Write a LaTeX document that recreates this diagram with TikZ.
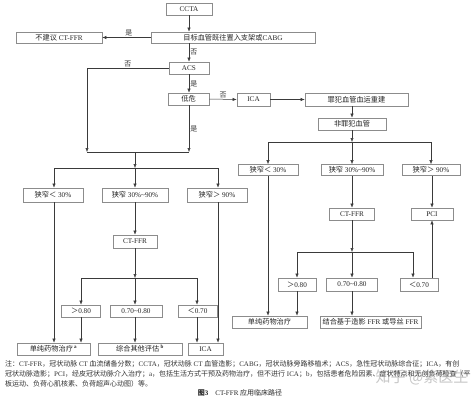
\documentclass[tikz,border=0pt]{standalone}
\usepackage{fontspec}
\setmainfont{Liberation Serif}
\newfontfamily\cjkf{Noto Sans CJK SC}
\newcommand\zh[1]{{\cjkf #1}}
\usetikzlibrary{arrows.meta,calc}
\definecolor{boxc}{HTML}{8C8C8C}
\definecolor{linec}{HTML}{3A3A3A}
\begin{document}
\begin{tikzpicture}[x=1pt,y=-1pt,
  box/.style={draw=boxc, line width=0.6pt, inner sep=0pt, text=black!85,
    font=\fontsize{7.2}{8}\selectfont, minimum height=12pt},
  ln/.style={draw=linec, line width=0.5pt},
  arr/.style={ln, -{Latex[length=4pt,width=3.2pt]}},
  lab/.style={font=\fontsize{7}{8}\selectfont\cjkf, text=black!80, inner sep=1pt},
  note/.style={font=\fontsize{7}{8.5}\selectfont, text=black!80, inner sep=0pt, anchor=west}]
\useasboundingbox (0,0) rectangle (474,404);
\fill[white] (0,0) rectangle (474,404);

% top
\node[box, minimum width=46pt] (ccta) at (189,9) {CCTA};
\node[box, minimum width=164pt, minimum height=11pt] (target) at (233,37.5) {\zh{目标血管既往置入支架或}CABG};
\node[box, minimum width=86pt, minimum height=11pt] (nofr) at (59,37.5) {\zh{不建议} CT-FFR};
\node[box, minimum width=40pt] (acs) at (189,68) {ACS};
\node[box, minimum width=41pt] (low) at (188.5,99) {\zh{低危}};
\node[box, minimum width=33pt, minimum height=13pt] (ica1) at (253.5,99.5) {ICA};
\node[box, minimum width=103pt, minimum height=13pt] (cul) at (356.5,99.5) {\zh{罪犯血管血运重建}};
\node[box, minimum width=68pt] (ncul) at (352,124) {\zh{非罪犯血管}};

% right column
\node[box, minimum width=60pt, minimum height=11pt] (r1) at (268,170) {\zh{狭窄＜} 30\%};
\node[box, minimum width=62pt, minimum height=11pt] (r2) at (352,170) {\zh{狭窄} 30\%\textasciitilde90\%};
\node[box, minimum width=58pt, minimum height=11pt] (r3) at (431,170) {\zh{狭窄＞} 90\%};
\node[box, minimum width=45pt] (ctffr2) at (352,214) {CT-FFR};
\node[box, minimum width=42pt] (pci) at (432,214) {PCI};
\node[box, minimum width=38pt, minimum height=13pt] (rg) at (297,284.5) {\zh{＞}0.80};
\node[box, minimum width=51pt, minimum height=13pt] (rm) at (352,284.5) {0.70\textasciitilde0.80};
\node[box, minimum width=38pt, minimum height=13pt] (rl) at (419,284.5) {\zh{＜}0.70};
\node[box, minimum width=75pt] (rdrug) at (269.5,322) {\zh{单纯药物治疗}};
\node[box, minimum width=101pt] (rcomb) at (370.5,322) {\zh{结合基于造影} FFR \zh{或导丝} FFR};

% left column
\node[box, minimum width=60pt, minimum height=14pt] (l1) at (53,195) {\zh{狭窄＜} 30\%};
\node[box, minimum width=66pt, minimum height=14pt] (l2) at (135,195) {\zh{狭窄} 30\%\textasciitilde90\%};
\node[box, minimum width=60pt, minimum height=14pt] (l3) at (217,195) {\zh{狭窄＞} 90\%};
\node[box, minimum width=44pt, minimum height=13pt] (ctffr1) at (135,241.5) {CT-FFR};
\node[box, minimum width=39pt] (lg) at (81,311) {\zh{＞}0.80};
\node[box, minimum width=52pt] (lm) at (136,311) {0.70\textasciitilde0.80};
\node[box, minimum width=39pt] (ll) at (197.5,311) {\zh{＜}0.70};
\node[box, minimum width=73pt] (bdrug) at (53.5,349) {\zh{单纯药物治疗}\,\textsuperscript{\bfseries a}};
\node[box, minimum width=84pt] (bcomp) at (140,349) {\zh{综合其他评估}\,\textsuperscript{\bfseries b}};
\node[box, minimum width=35pt] (bica) at (205.5,349) {ICA};

% coordinates for bars
\coordinate (barL) at (87,152);
\coordinate (barR) at (189,152);
\coordinate (barC) at (135,152);
\coordinate (bar2L) at (54,168);
\coordinate (bar2C) at (135,168);
\coordinate (bar2R) at (218,168);
\coordinate (bar3L) at (81,278);
\coordinate (bar3C) at (135,278);
\coordinate (bar3R) at (197,278);
\coordinate (rbarL) at (268,142);
\coordinate (rbarC) at (352,142);
\coordinate (rbarR) at (431,142);
\coordinate (rbar2L) at (297,252);
\coordinate (rbar2C) at (352,252);
\coordinate (rbar2R) at (413,252);

% top connectors
\draw[arr] (ccta.south) -- (ccta.south |- target.north);
\draw[arr] (target.west) -- node[lab, above, pos=0.45] {是} (nofr.east);
\draw[arr] (acs.north |- target.south) -- node[lab, right, pos=0.45] {否} (acs.north);
\draw[arr] (acs.west) -- node[lab, above, pos=0.5] {否} (acs.west -| barL) -- (barL);
\draw[arr] (acs.south) -- node[lab, right] {是} (low.north -| acs.south);
\draw[arr] (low.east) -- node[lab, above] {否} (ica1.west);
\draw[arr] (ica1.east) -- (cul.west);
\draw[arr] (ncul.north |- cul.south) -- (ncul.north);
\draw[arr] (low.south -| barR) -- node[lab, right] {是} (barR);
\draw[ln] (barL) -- (barR);
\draw[arr] (barC) -- (bar2C);
\draw[ln] (bar2L) -- (bar2R);
\draw[arr] (bar2L) -- (bar2L |- l1.north);
\draw[arr] (bar2C) -- (l2.north);
\draw[arr] (bar2R) -- (bar2R |- l3.north);

% left lower
\draw[arr] (l1.south -| bar2L) -- (bar2L |- bdrug.north);
\draw[arr] (l2.south) -- (ctffr1.north);
\draw[arr] (l3.south -| bar2R) -- (bar2R |- bica.north);
\draw[arr] (ctffr1.south) -- (bar3C);
\draw[ln] (bar3L) -- (bar3R);
\draw[arr] (bar3L) -- (lg.north);
\draw[arr] (bar3C) -- (bar3C |- lm.north);
\draw[arr] (bar3R) -- (bar3R |- ll.north);
\draw[arr] (lg.south) -- (lg.south |- bdrug.north);
\draw[arr] (bar3C |- lm.south) -- (bar3C |- bcomp.north);
\draw[arr] (bar3R |- ll.south) -- (bar3R |- bica.north);

% right connectors
\draw[arr] (ncul.south) -- (rbarC);
\draw[ln] (rbarL) -- (rbarR);
\draw[arr] (rbarL) -- (r1.north);
\draw[arr] (rbarC) -- (r2.north);
\draw[arr] (rbarR) -- (r3.north);
\draw[arr] (r1.south) -- (r1.south |- rdrug.north);
\draw[arr] (r2.south) -- (ctffr2.north);
\draw[arr] (r3.south -| pci) -- (pci.north);
\draw[arr] (ctffr2.south) -- (rbar2C);
\draw[ln] (rbar2L) -- (rbar2R);
\draw[arr] (rbar2L) -- (rg.north);
\draw[arr] (rbar2C) -- (rm.north);
\draw[arr] (rbar2R) -- (rbar2R |- rl.north);
\draw[arr] (rg.south) -- (rg.south |- rdrug.north);
\draw[arr] (rm.south) -- (rm.south |- rcomb.north);
\draw[arr] (rl.north -| pci) -- (pci.south);

% watermark
\node[font=\fontsize{15}{16}\selectfont\cjkf, text=black!22, inner sep=0pt] (wm) at (422,377) {知乎 @紫医生};

% notes
\node[note] (n1) at (5,364) {\zh{注：}CT-FFR\zh{，冠状动脉} CT \zh{血流储备分数；}CCTA\zh{，冠状动脉} CT \zh{血管造影；}CABG\zh{，冠状动脉旁路移植术；}ACS\zh{，急性冠状动脉综合征；}ICA\zh{，有创}};
\node[note] (n2) at (5,374) {\zh{冠状动脉造影；}PCI\zh{，经皮冠状动脉介入治疗；}a\zh{，包括生活方式干预及药物治疗，但不进行} ICA\zh{；}b\zh{，包括患者危险因素、症状特点和无创负荷检查（平}};
\node[note] (n3) at (5,384) {\zh{板运动、负荷心肌核素、负荷超声心动图）等。}};
\node[font=\fontsize{7}{8}\selectfont, text=black!85, inner sep=0pt] (cap) at (240,393) {{\cjkf\bfseries 图}\textbf{3}\quad CT-FFR \zh{应用临床路径}};
\end{tikzpicture}
\end{document}
